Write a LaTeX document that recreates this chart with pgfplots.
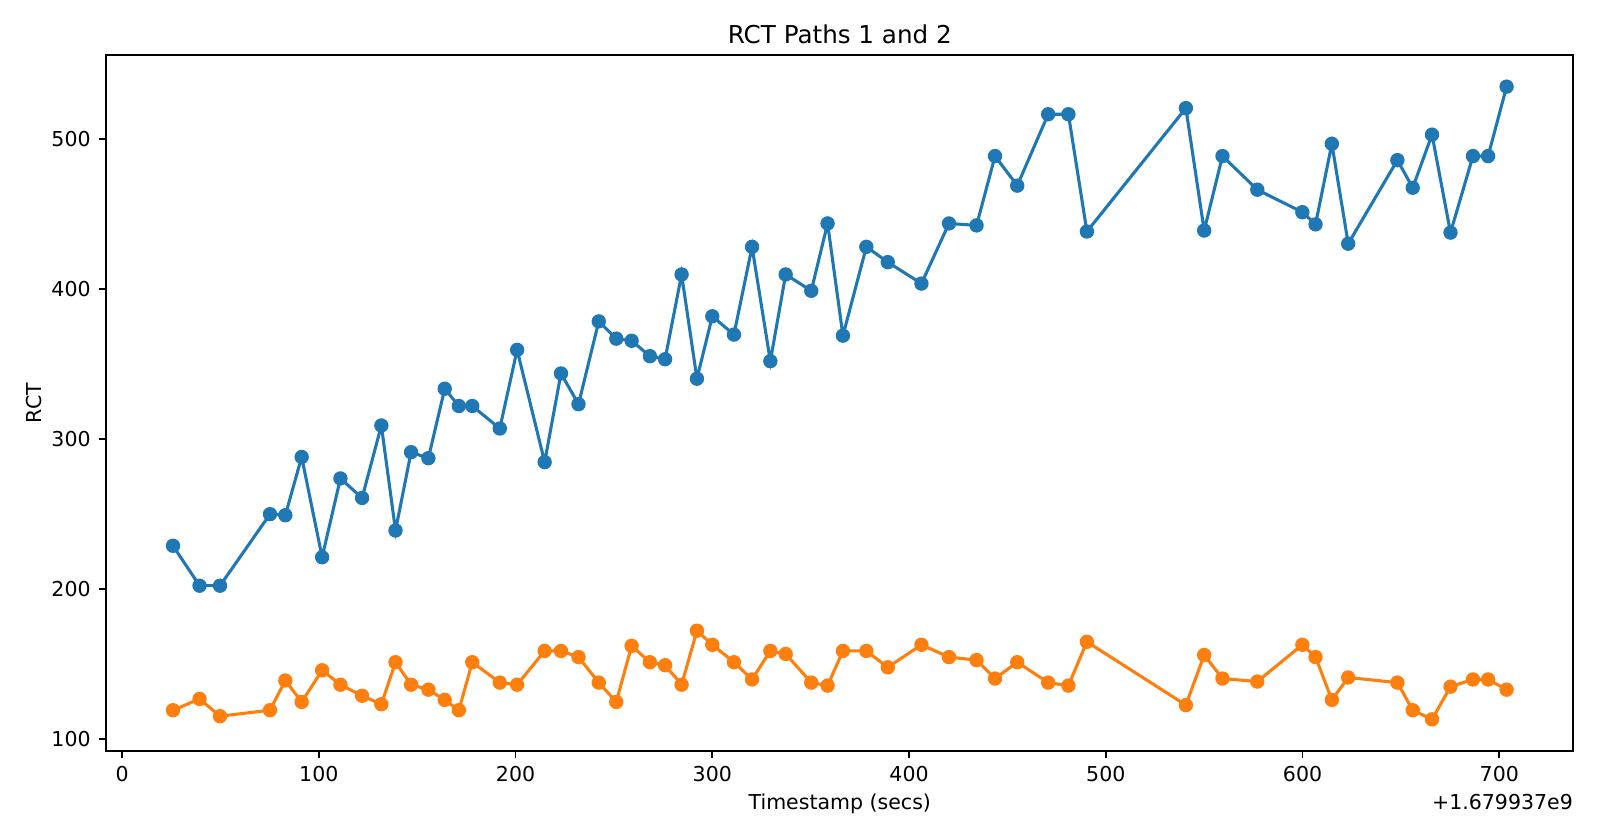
\documentclass[border=0pt]{standalone}
\usepackage{fontspec}
\setmainfont{DejaVu Sans}
\usepackage{pgfplots}
\pgfplotsset{compat=1.18}
\definecolor{cblue}{HTML}{1F77B4}
\definecolor{corange}{HTML}{FF7F0E}
\begin{document}
\begin{tikzpicture}
\begin{axis}[
  at={(0,0)}, anchor=south west,
  scale only axis, width=715.16pt, height=339.3pt,
  xmin=-8, xmax=737.6, ymin=91.8, ymax=555.8,
  xtick={0,100,...,700}, ytick={100,200,...,500},
  tick align=outside, tick pos=left,
  major tick length=3.5pt,
  every tick/.style={black, line width=0.8pt},
  axis line style={line width=0.8pt},
  /pgf/number format/assume math mode=true,
  tick label style={font=\fontsize{10}{12}\selectfont},
  yticklabel style={xshift=-0.6pt},
  xticklabel style={yshift=-0.4pt},
  scaled ticks=false,
  clip=false,
]
\addplot[cblue, line width=1.5pt, mark=*, mark size=3pt, mark options={fill=cblue, draw=cblue, line width=1pt}] coordinates {
(25.9,228.6) (39.4,202) (49.8,202) (75.2,249.7) (83,249) (91.3,287.8) (101.7,221) (111,273.5) (122,260.5) (131.8,308.8)
(139,238.8) (146.9,291) (155.7,287) (164,333.3) (171.2,321.8) (178,321.8) (192,306.8) (200.8,359.2) (214.8,284.4) (223.1,343.5)
(232,323) (242.3,378.2) (251.2,366.7) (259,365.3) (268.3,355) (276,353) (284.4,409.5) (292.2,340) (300,381.6) (311,369.4)
(320.2,427.9) (329.5,351.7) (337.3,409.5) (350.3,398.6) (358.6,443.5) (366.4,368.7) (378.3,427.9) (389.2,417.7) (406.3,403.4) (420.3,443.5)
(434.3,442.2) (443.7,488.4) (455,468.7) (470.7,516.3) (481,516.3) (490.4,438.1) (540.7,520.4) (550,438.8) (559.3,488.4) (577,466)
(599.9,451) (606.6,442.9) (614.9,496.6) (623.2,430) (648.2,485.7) (656,467.3) (665.8,502.7) (675.2,437.4) (686.6,488.4) (694.3,488.4)
(703.7,534.7)
};
\addplot[corange, line width=1.5pt, mark=*, mark size=3pt, mark options={fill=corange, draw=corange, line width=1pt}] coordinates {
(25.9,119) (39.4,126.5) (49.8,115) (75.2,119) (83,138.8) (91.3,124.5) (101.7,145.6) (111,136) (122,128.6) (131.8,123)
(139,151) (146.9,136) (155.7,132.7) (164,125.9) (171.2,119) (178,151) (192,137.4) (200.8,136) (214.8,158.5) (223.1,158.5)
(232,154.4) (242.3,137.4) (251.2,124.5) (259,161.9) (268.3,151) (276,149) (284.4,136) (292.2,172) (300,162.6) (311,151)
(320.2,139.5) (329.5,158.5) (337.3,156.5) (350.3,137.4) (358.6,135.4) (366.4,158.5) (378.3,158.5) (389.2,147.6) (406.3,162.6) (420.3,154.4)
(434.3,152.4) (443.7,140.1) (455,151) (470.7,137.4) (481,135.4) (490.4,164.6) (540.7,122.4) (550,155.8) (559.3,140.1) (577,138.1)
(599.9,162.6) (606.6,154.4) (614.9,125.9) (623.2,140.8) (648.2,137.4) (656,119) (665.8,112.9) (675.2,134.7) (686.6,139.5) (694.3,139.5)
(703.7,132.7)
};
\node[anchor=base, inner sep=0pt, font=\fontsize{12}{14}\selectfont] at ([yshift=5.7pt]rel axis cs:0.5,1) {RCT Paths 1 and 2};
\node[anchor=base, inner sep=0pt, font=\fontsize{10}{12}\selectfont] at ([yshift=-28.4pt]rel axis cs:0.5,0) {Timestamp (secs)};
\node[anchor=base east, inner sep=0pt, font=\fontsize{10}{12}\selectfont] at ([yshift=-28.4pt]rel axis cs:1,0) {+1.679937e9};
\node[anchor=base, rotate=90, inner sep=0pt, font=\fontsize{10}{12}\selectfont] at ([xshift=-31.5pt]rel axis cs:0,0.5) {RCT};
\end{axis}
\pgfresetboundingbox
\path[use as bounding box] (-51.82pt,-41.93pt) rectangle (728.18pt,366.11pt);
\end{tikzpicture}
\end{document}
